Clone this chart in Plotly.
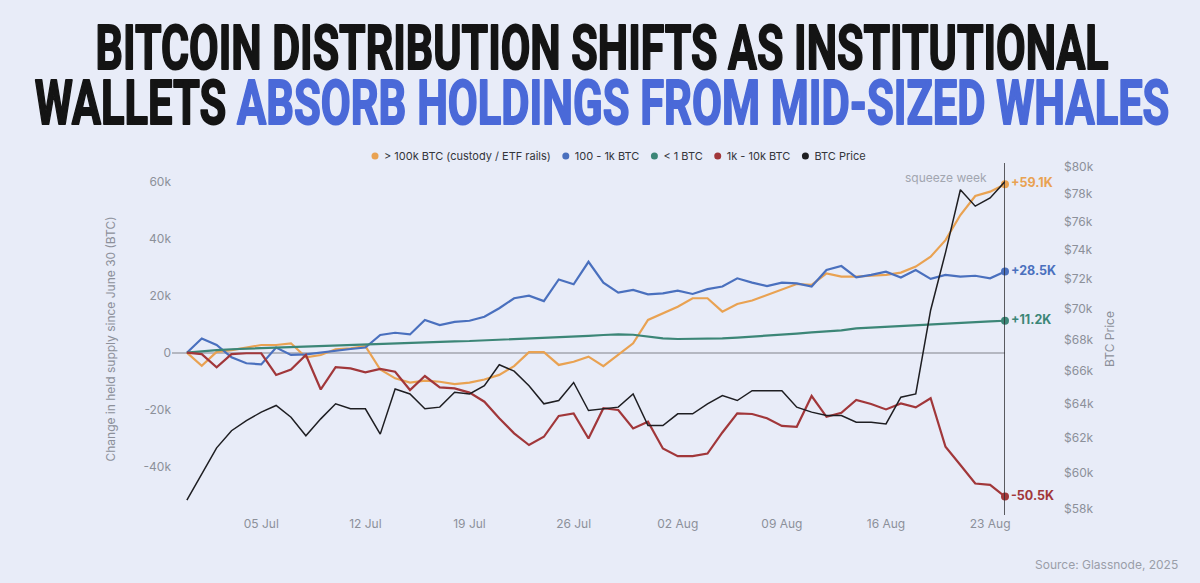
import pandas as pd
import plotly.graph_objects as go

# ---------------- data ----------------
start_date = "2025-06-30"
dates = pd.date_range(start_date, periods=56, freq="D")

series_names = ["> 100k BTC (custody / ETF rails)", "100 - 1k BTC", "< 1 BTC", "1k - 10k BTC"]
price_name = "BTC Price"

# change in held supply since June 30, thousands of BTC
custody_100k_k = [0, -4.6, 0.3, 0.9, 1.8, 2.7, 2.7, 3.3, -1.6, -0.8, 1.2, 1.5, 2.3, -5.9, -9.0, -10.5, -9.8, -10.2, -11.0,
                  -10.5, -9.4, -7.8, -4.7, 0.2, 0.2, -4.3, -3.2, -1.4, -4.7, -0.8, 3.3, 11.5, 13.8, 16.1, 19.1, 19.1, 14.4,
                  17.1, 18.3, 20.2, 22.2, 24.1, 23.8, 27.8, 26.7, 26.7, 27.0, 27.3, 28.1, 30.2, 33.7, 39.5, 48.3, 55.0, 56.5, 59.1]
mid_100_1k_k = [0, 5.0, 2.7, -1.6, -3.7, -4.1, 1.8, -0.8, -0.6, 0.1, 0.7, 1.3, 1.8, 6.2, 7.0, 6.4, 11.5, 9.7, 10.8,
                11.2, 12.6, 15.6, 19.1, 20.0, 18.1, 25.7, 24.0, 31.9, 24.6, 21.1, 22.0, 20.5, 20.8, 21.8, 20.6, 22.3, 23.2,
                26.1, 24.6, 23.4, 24.6, 24.3, 23.2, 29.0, 30.4, 26.4, 27.3, 28.4, 26.4, 29.0, 25.9, 27.3, 26.7, 27.0, 26.1, 28.5]
retail_lt1_k = [0.0, 0.5, 0.9, 1.2, 1.4, 1.6, 1.8, 2.0, 2.1, 2.3, 2.5, 2.7, 2.9, 3.1, 3.3, 3.5, 3.7, 3.8, 4.0,
                4.1, 4.3, 4.5, 4.7, 4.9, 5.2, 5.4, 5.7, 5.9, 6.2, 6.4, 6.3, 5.6, 5.0, 4.8, 4.8, 4.9, 5.0,
                5.3, 5.6, 6.0, 6.3, 6.7, 7.1, 7.5, 7.8, 8.5, 8.8, 9.1, 9.4, 9.7, 9.9, 10.2, 10.5, 10.8, 11.0, 11.2]
whale_1k_10k_k = [0, -0.5, -5.1, -0.5, -0.2, -0.2, -7.8, -5.9, -0.8, -12.9, -5.1, -5.5, -6.9, -5.7, -6.7, -13.1, -8.2, -12.2, -12.5,
                  -14.0, -17.2, -23.0, -28.3, -32.4, -29.5, -22.2, -21.3, -30.1, -19.5, -20.1, -26.6, -24.2, -33.6, -36.3, -36.3, -35.4, -28.0,
                  -21.3, -21.5, -23.0, -25.7, -26.0, -15.2, -22.5, -21.1, -16.6, -18.0, -19.9, -17.8, -19.2, -16.0, -33.0, -39.4, -45.9, -46.4, -50.5]

# BTC price, thousands of USD
btc_price_k = [58.45, 59.9, 61.4, 62.4, 63.0, 63.5, 63.9, 63.2, 62.1, 63.1, 64.0, 63.7, 63.7, 62.2, 64.9, 64.6, 63.7, 63.8, 64.7,
               64.6, 65.1, 66.4, 66.0, 65.1, 64.0, 64.2, 65.3, 63.6, 63.7, 63.8, 64.6, 62.7, 62.7, 63.4, 63.4, 64.0, 64.5,
               64.2, 64.8, 64.8, 64.8, 63.8, 63.5, 63.3, 63.3, 62.9, 62.9, 62.8, 64.4, 64.6, 69.9, 73.8, 78.3, 77.1, 77.7, 78.9]

left_tick_vals = [-40000, -20000, 0, 20000, 40000, 60000]
left_tick_text = ["-40k", "-20k", "0", "20k", "40k", "60k"]
right_tick_vals = [58000, 60000, 62000, 64000, 66000, 68000, 70000, 72000, 74000, 76000, 78000, 80000]
right_tick_text = ["$58k", "$60k", "$62k", "$64k", "$66k", "$68k", "$70k", "$72k", "$74k", "$76k", "$78k", "$80k"]

title_line1 = "BITCOIN DISTRIBUTION SHIFTS AS INSTITUTIONAL"
title_line2_black = "WALLETS"
title_line2_blue = "ABSORB HOLDINGS FROM MID-SIZED WHALES"
left_title = "Change in held supply since June 30 (BTC)"
right_title = "BTC Price"
squeeze_label = "squeeze week"
source_label = "Source: Glassnode, 2025"

# ---------------- style ----------------
BG = "#E8ECF8"
colors = ["#E9A252", "#4A70BE", "#3C8677", "#A1373A"]
price_color = "#1E1E22"
title_blue = "#4A69D8"
tick_grey = "#8C909A"
FONT = "Inter, Roboto, 'Noto Sans', sans-serif"
TITLE_FONT = "Roboto, Inter, sans-serif"

series_values = [custody_100k_k, mid_100_1k_k, retail_lt1_k, whale_1k_10k_k]

fig = go.Figure()

for name, vals, col in zip(series_names, series_values, colors):
    y = [v * 1000 for v in vals]
    fig.add_trace(go.Scatter(x=dates, y=y, mode="lines", name=name,
                             line=dict(color=col, width=2.2), showlegend=False,
                             hoverinfo="skip"))

price = [p * 1000 for p in btc_price_k]
fig.add_trace(go.Scatter(x=dates, y=price, mode="lines", name=price_name, yaxis="y2",
                         line=dict(color=price_color, width=1.5), showlegend=False,
                         hoverinfo="skip"))

# end-point markers with labels
for name, vals, col in zip(series_names, series_values, colors):
    last = vals[-1]
    fig.add_trace(go.Scatter(x=[dates[-1]], y=[last * 1000], mode="markers+text",
                             marker=dict(color=col, size=8),
                             text=[f"{last:+.1f}K"], textposition="middle right",
                             textfont=dict(color=col, size=12.5, family=FONT, weight="bold"),
                             cliponaxis=False, showlegend=False, hoverinfo="skip"))

# legend entries (dots)
for name, col in zip(series_names + [price_name], colors + [price_color]):
    fig.add_trace(go.Scatter(x=[None], y=[None], mode="markers", name=name,
                             marker=dict(color=col, size=7), showlegend=True))

# vertical "now" line at last date
fig.add_shape(type="line", xref="x", yref="paper", x0=dates[-1], x1=dates[-1], y0=0, y1=1,
              line=dict(color="#2A2A2E", width=1.5))

L, R_PLOT, T, B = 172, 1005, 163, 515
PAPER_R = 1063
W, H = 1200, 583
pw = PAPER_R - L
ph = B - T


def px_x(x):
    return (x - L) / pw


def px_y(y):
    return (B - y) / ph


TITLE_SIZE = 40
title_html = (f"<b>{title_line1}<br>{title_line2_black} "
              f"<span style='color:{title_blue}'>{title_line2_blue}</span></b>")
annotations = [
    dict(text=title_html, xref="paper", yref="paper", x=px_x(602), y=px_y(75),
         xanchor="center", yanchor="middle", align="center", showarrow=False,
         font=dict(family=TITLE_FONT, size=TITLE_SIZE, color="#141414", weight=900)),
    dict(text=squeeze_label, xref="x", yref="paper", x=dates[51], y=px_y(177.5),
         xanchor="center", yanchor="middle", showarrow=False,
         font=dict(family=FONT, size=12, color="#A2A6B0")),
    dict(text=source_label, xref="paper", yref="paper", x=px_x(1180), y=px_y(564),
         xanchor="right", yanchor="middle", showarrow=False,
         font=dict(family=FONT, size=12, color="#9A9EA8")),
]

fig.update_layout(
    width=W, height=H,
    paper_bgcolor=BG, plot_bgcolor=BG,
    margin=dict(l=L, r=W - PAPER_R, t=T, b=H - B, autoexpand=False),
    font=dict(family=FONT, size=12, color=tick_grey),
    showlegend=True,
    legend=dict(orientation="h", x=px_x(619), xanchor="center", y=px_y(156), yanchor="middle",
                font=dict(size=11, color="#33353B", family=FONT), bgcolor="rgba(0,0,0,0)",
                itemclick=False, tracegroupgap=0),
    xaxis=dict(type="date", domain=[0, (R_PLOT - L) / pw],
               range=["2025-06-29", dates[-1]],
               tick0="2025-07-05", dtick=7 * 86400000, tickformat="%d %b",
               showgrid=False, zeroline=False, showline=False, ticks="",
               tickfont=dict(size=12, color=tick_grey)),
    yaxis=dict(range=[-56950, 66560], tickvals=left_tick_vals, ticktext=left_tick_text,
               showgrid=False, zeroline=True, zerolinecolor="#B4B7C1", zerolinewidth=1.5,
               showline=False, ticks="",
               tickfont=dict(size=12, color=tick_grey),
               title=dict(text=left_title, standoff=25, font=dict(size=12, color=tick_grey))),
    yaxis2=dict(type="log", overlaying="y", side="right", anchor="free", position=1.0,
                range=[4.7607, 4.9047], tickvals=right_tick_vals, ticktext=right_tick_text,
                showgrid=False, zeroline=False, showline=False, ticks="",
                tickfont=dict(size=12, color=tick_grey),
                title=dict(text=right_title, standoff=12, font=dict(size=12, color=tick_grey))),
    annotations=annotations,
    hovermode=False,
)

# Page tweaks: no body margin; poster-style title (tight leading, condensed);
# compact legend spacing (dot close to its label).
post_script = """
(function(){
  document.documentElement.style.margin = '0';
  document.body.style.margin = '0';
  document.body.style.padding = '0';
  document.body.style.overflow = 'hidden';
  document.body.style.background = '%s';
  var gd = document.getElementById('{plot_id}');
  var capTarget = 44.0;      // cap height in page px
  var lineGap = 54.5;        // baseline-to-baseline in page px
  var w1 = 1013, w2 = 1135;  // line widths in page px
  function fitTitle(){
    var g = gd.querySelector('g.annotation[data-index="0"]');
    if (!g) return;
    var t = g.querySelector('text.annotation-text');
    if (!t) return;
    t.removeAttribute('transform');
    var lines = t.querySelectorAll('tspan.line');
    var b0 = t.getBBox();
    var c0x = b0.x + b0.width / 2, c0y = b0.y + b0.height / 2;
    var sy = capTarget / (%d * 0.711);
    var sx;
    if (lines.length >= 2) {
      lines[1].setAttribute('dy', (lineGap / sy) + 'px');
      lines[0].setAttribute('dy', '0px');
      var l2 = lines[1].getComputedTextLength();
      sx = w2 / l2;
      lines[0].setAttribute('textLength', (w1 / sx));
      lines[0].setAttribute('lengthAdjust', 'spacingAndGlyphs');
    } else {
      sx = w2 / b0.width;
    }
    var b1 = t.getBBox();
    var c1x = b1.x + b1.width / 2, c1y = b1.y + b1.height / 2;
    t.setAttribute('transform', 'translate(' + c0x + ',' + c0y + ') scale(' + sx + ',' + sy + ') translate(' + (-c1x) + ',' + (-c1y) + ')');
    var parts = [t].concat(Array.prototype.slice.call(t.querySelectorAll('tspan')));
    parts.forEach(function(p){
      var f = window.getComputedStyle(p).fill;
      p.style.stroke = f;
      p.style.strokeWidth = '1.2px';
      p.style.strokeLinejoin = 'round';
    });
  }
  function fitLegend(){
    var items = gd.querySelectorAll('g.legend g.traces');
    if (!items.length) return;
    var parent = items[0].parentNode;
    var m = parent.getScreenCTM();
    if (!m) return;
    var firstDot = 375, dotToText = 9, textToDot = 15, x = 0;
    items.forEach(function(it){
      var tr = it.getAttribute('transform') || '';
      var mm = /translate\\(\\s*([-\\d.e]+)[ ,]+([-\\d.e]+)\\s*\\)/.exec(tr);
      var y = mm ? parseFloat(mm[2]) : 0;
      var txt = it.querySelector('text.legendtext');
      if (!txt) return;
      var w = txt.getComputedTextLength();
      var localX = (firstDot + x - 20 - m.e) / m.a;
      it.setAttribute('transform', 'translate(' + localX + ',' + y + ')');
      txt.setAttribute('x', 20 + dotToText);
      x += dotToText + w + textToDot;
    });
  }
  function fit(){ fitTitle(); fitLegend(); }
  fit();
  if (gd.on) { gd.on('plotly_afterplot', fit); }
})();
""" % (BG, TITLE_SIZE)

fig.write_html("out.html", post_script=post_script, config={"displayModeBar": False})
